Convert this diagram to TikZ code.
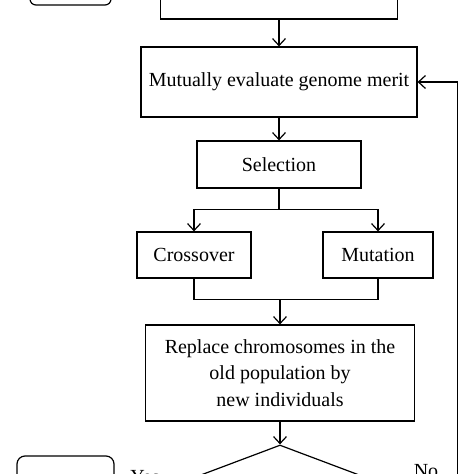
\documentclass[tikz,border=0pt]{standalone}
\usepackage{fontspec}
\setmainfont{Liberation Serif}
\usetikzlibrary{calc,positioning,shapes,arrows.meta}

\begin{document}
\begin{tikzpicture}[x=1pt,y=-1pt,
		box/.style={draw,line width=1.2pt,inner sep=0pt,font=\fontsize{20}{26.5}\selectfont},
		arr/.style={line width=1.2pt,-{Straight Barb[length=7pt,width=13pt,line width=1.2pt]}}]
		\useasboundingbox (0,0) rectangle (474,474);
		\clip (0,0) rectangle (474,474);
		\node(1) [box,rounded corners=6pt,minimum width=81,minimum height=40] at (70.5,-15) {};
		\node(2) [box,minimum width=237,minimum height=70] at (279,-16) {};
		\node(3) [box,minimum width=276,minimum height=70] at (279,82) {Mutually evaluate genome merit};
		\node(4) [box,minimum width=164,minimum height=47] at (279,164.5) {Selection};
		\node(5) [box,minimum width=114,minimum height=46] at (194,255) {Crossover};
		\node(6) [box,minimum width=110,minimum height=46] at (378,255) {Mutation};
		\node(7) [box,align=center,minimum width=269,minimum height=96] at (280,373) {Replace chromosomes in the\\old population by\\new individuals};
		\node(8) [box,diamond,minimum width=212,minimum height=80] at (280,485) {};
		\node(9) [box,rounded corners=8pt,minimum width=97,minimum height=58] at (65.5,485) {};
		\node(10) [anchor=base,font=\fontsize{20}{24}\selectfont] at (145,483) {Yes};
		\node(11) [anchor=base,font=\fontsize{20}{24}\selectfont] at (426,477) {No};
		\coordinate(m) at ($(7.north)+(0,-25)$);
		\draw[arr] (2.south) -- (3.north);
		\draw[arr] (3.south) -- (4.north);
		\draw[arr] (4.south) -- ++(0,21) -| (5.north);
		\draw[arr] (4.south) -- ++(0,21) -| (6.north);
		\draw[line width=1.2pt] (5.south) |- (m) -| (6.south);
		\draw[arr] (m) -- (7.north);
		\draw[arr] (7.south) -- (8.north);
		\draw[arr] (8.west) -- (9.east);
		\draw[arr] (8.east) -| ($(3.east)+(40,0)$) -- (3.east);
	\end{tikzpicture}
\end{document}
